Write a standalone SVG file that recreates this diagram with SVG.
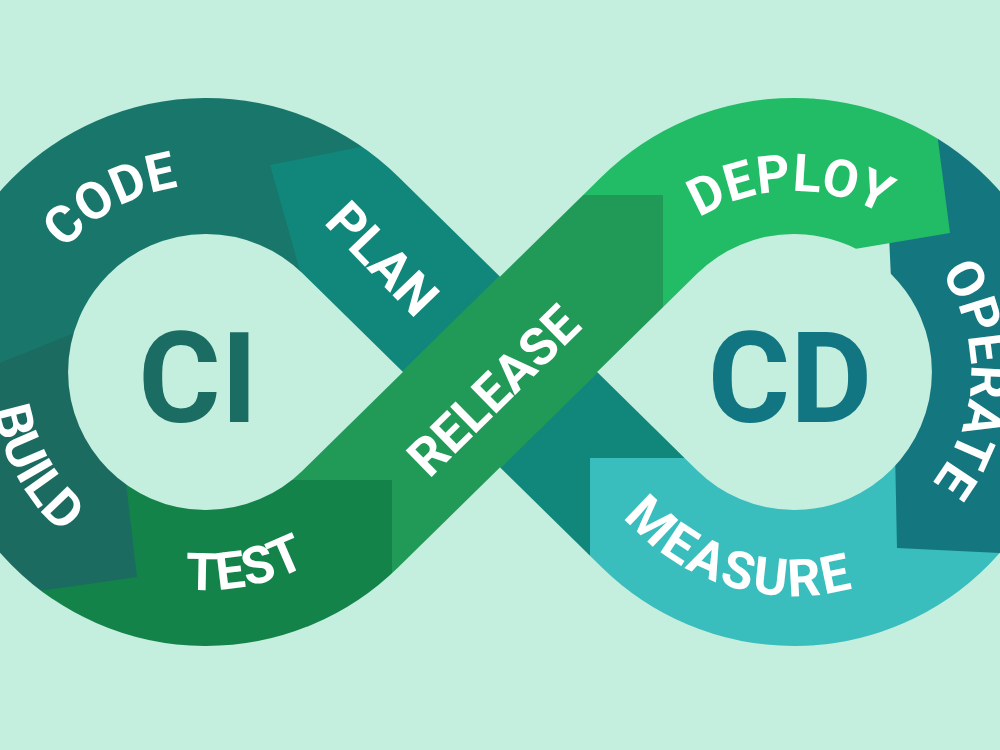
<svg xmlns="http://www.w3.org/2000/svg" xmlns:xlink="http://www.w3.org/1999/xlink" width="1000" height="750" viewBox="0 0 1000 750">
  <style>
    .lbl { font-family: Roboto, "Liberation Sans", sans-serif; font-weight: 700; font-size: 52px; fill: #ffffff; }
    .big { font-family: Roboto, "Liberation Sans", sans-serif; font-weight: 700; text-anchor: middle; font-size: 126px; }
    .c-code { fill: #18766b; }
    .c-plan { fill: #11867b; }
    .c-build { fill: #1b6b61; }
    .c-test { fill: #13834a; }
    .c-release { fill: #229a57; }
    .c-deploy { fill: #22bc66; }
    .c-operate { fill: #14767f; }
    .c-measure { fill: #3abdbd; }
  </style>
  <defs>
    <mask id="mFull" maskUnits="userSpaceOnUse" x="-200" y="-200" width="1400" height="1150">
      <path d="M350.4 225 A206 206 0 1 0 350.4 519 L649.6 225 A206 206 0 1 1 649.6 519 Z" fill="none" stroke="#fff" stroke-width="136"/>
    </mask>
    <mask id="mB" maskUnits="userSpaceOnUse" x="-200" y="-200" width="1400" height="1150">
      <path d="M300.5 568 L699.5 176" fill="none" stroke="#fff" stroke-width="138"/>
    </mask>
    <path id="pCode" d="M19 372 A187 187 0 1 1 393 372 A187 187 0 1 1 19 372"/>
    <path id="pBuild" d="M206 156 A216 216 0 1 0 206 588 A216 216 0 1 0 206 156"/>
    <path id="pTest" d="M206 154 A218 218 0 1 0 206 590 A218 218 0 1 0 206 154"/>
    <path id="pDeploy" d="M613 372 A181 181 0 1 1 975 372 A181 181 0 1 1 613 372"/>
    <path id="pOperate" d="M617 372 A177 177 0 1 1 971 372 A177 177 0 1 1 617 372"/>
    <path id="pMeasure" d="M794 148 A224 224 0 1 0 794 596 A224 224 0 1 0 794 148"/>
  </defs>

  <rect x="0" y="0" width="1000" height="750" fill="#c4eede"/>

  <g id="loop" mask="url(#mFull)">
    <g id="code">
      <rect class="c-code" x="-100" y="0" width="600" height="750"/>
      <text class="lbl" font-size="50"><textPath xlink:href="#pCode" href="#pCode" startOffset="17%" text-anchor="middle">CODE</textPath></text>
    </g>
    <g id="plan">
      <polygon class="c-plan" points="270,165 560,107 720,107 720,760 420,760 330,377"/>
      <text class="lbl" text-anchor="middle" transform="translate(383,258) rotate(46)" y="19">PLAN</text>
    </g>
    <g id="measure">
      <polygon class="c-measure" points="590,458 1100,458 1100,800 590,800"/>
      <text class="lbl" letter-spacing="2.5"><textPath xlink:href="#pMeasure" href="#pMeasure" startOffset="45.3%" text-anchor="middle">MEASURE</textPath></text>
    </g>
    <g id="operate">
      <polygon class="c-operate" points="880,40 1100,40 1100,558 897,548 892,300"/>
      <text class="lbl"><textPath xlink:href="#pOperate" href="#pOperate" startOffset="50.6%" text-anchor="middle">OPERATE</textPath></text>
    </g>
    <g id="release" mask="url(#mB)">
      <rect class="c-deploy" x="200" y="0" width="600" height="750"/>
      <polygon class="c-release" points="200,195 663,195 663,760 200,760"/>
      <text class="lbl" text-anchor="middle" transform="translate(493,390) rotate(-44.5)" y="19">RELEASE</text>
    </g>
    <g id="deploy">
      <polygon class="c-deploy" points="520,40 925,40 950,233 663,281 663,195 520,195"/>
      <text class="lbl" letter-spacing="0.5"><textPath xlink:href="#pDeploy" href="#pDeploy" startOffset="24.7%" text-anchor="middle">DEPLOY</textPath></text>
    </g>
    <g id="test">
      <polygon class="c-test" points="-100,600 100,480 392,480 392,760 -100,760"/>
      <text class="lbl"><textPath xlink:href="#pTest" href="#pTest" startOffset="53.1%" text-anchor="middle">TEST</textPath></text>
    </g>
    <g id="build">
      <polygon class="c-build" points="-100,403 107,320 137,577 -100,611"/>
      <text class="lbl"><textPath xlink:href="#pBuild" href="#pBuild" startOffset="33.1%" text-anchor="middle">BUILD</textPath></text>
    </g>
  </g>

  <g id="ci">
    <text class="big" x="198" y="422" fill="#1b6c62">CI</text>
  </g>
  <g id="cd">
    <text class="big" x="790" y="422" fill="#127682">CD</text>
  </g>
</svg>
